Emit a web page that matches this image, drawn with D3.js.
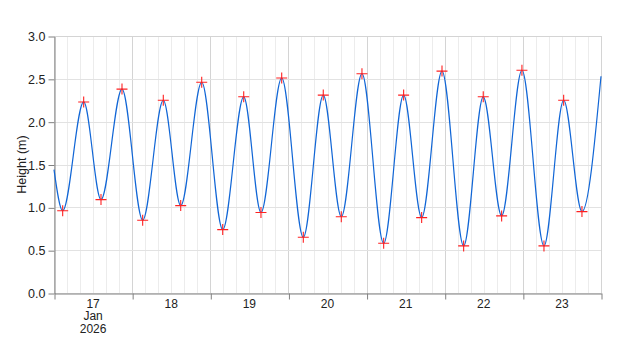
<!DOCTYPE html>
<html>
<head>
	<script src="https://cdn.jsdelivr.net/npm/d3@7"></script>
	<style>
		html, body {
			padding: 0;
			margin: 0;
			background: #fff;
		}
		text {
			font-family: "Liberation Sans", Arial, sans-serif;
		}
	</style>
</head>
<body>
	<script>
		//////// DATA ////////
		// tide turning points
		var extremeTimes = [
			"2026-01-17 02:40", "2026-01-17 09:07", "2026-01-17 14:26", "2026-01-17 20:53",
			"2026-01-18 03:14", "2026-01-18 09:34", "2026-01-18 14:55", "2026-01-18 21:22",
			"2026-01-19 03:49", "2026-01-19 10:16", "2026-01-19 15:34", "2026-01-19 21:56",
			"2026-01-20 04:34", "2026-01-20 10:42", "2026-01-20 16:14", "2026-01-20 22:35",
			"2026-01-21 05:15", "2026-01-21 11:23", "2026-01-21 16:55", "2026-01-21 23:10",
			"2026-01-22 05:49", "2026-01-22 11:50", "2026-01-22 17:29", "2026-01-22 23:43",
			"2026-01-23 06:29", "2026-01-23 12:32", "2026-01-23 18:09"
		];
		var extremeHeights = [
			0.96, 2.23, 1.09, 2.38,
			0.85, 2.25, 1.02, 2.46,
			0.74, 2.29, 0.94, 2.51,
			0.65, 2.31, 0.89, 2.56,
			0.58, 2.31, 0.88, 2.59,
			0.55, 2.29, 0.90, 2.60,
			0.55, 2.25, 0.95
		];
		// curve values at the left and right edge
		var edgeTimes = ["2026-01-17 00:00", "2026-01-24 00:00"];
		var edgeHeights = [1.44, 2.53];

		var yTicks = [0, 0.5, 1, 1.5, 2, 2.5, 3];
		var dayLabels = ["17", "18", "19", "20", "21", "22", "23"];
		var firstLabelExtra = ["Jan", "2026"];

		//////// SETUP ////////
		var width = 620, height = 350;
		var margin = {top: 36, right: 19, bottom: 57, left: 54};

		var parse = d3.timeParse("%Y-%m-%d %H:%M");

		var extremes = extremeTimes.map(function(t, i) {
			return {t: parse(t), h: extremeHeights[i]};
		});
		var curve = [{t: parse(edgeTimes[0]), h: edgeHeights[0]}]
			.concat(extremes)
			.concat([{t: parse(edgeTimes[1]), h: edgeHeights[1]}]);

		var svg = d3.select("body").append("svg")
			.attr("width", width)
			.attr("height", height);

		var x = d3.scaleTime()
			.domain([parse(edgeTimes[0]), parse(edgeTimes[1])])
			.range([margin.left, width - margin.right]);

		var y = d3.scaleLinear()
			.domain([0, 3])
			.range([height - margin.bottom, margin.top]);

		//////// GRID ////////
		var grid = svg.append("g");

		grid.selectAll(".vminor")
			.data(x.ticks(d3.timeHour.every(4)))
			.enter().append("line")
			.attr("x1", function(d) { return Math.round(x(d)) + 0.5; })
			.attr("x2", function(d) { return Math.round(x(d)) + 0.5; })
			.attr("y1", y(3))
			.attr("y2", y(0))
			.attr("stroke", function(d) { return d.getHours() === 0 ? "#d4d4d4" : "#ececec"; })
			.attr("stroke-width", 1);

		grid.selectAll(".hgrid")
			.data(yTicks)
			.enter().append("line")
			.attr("x1", margin.left)
			.attr("x2", width - margin.right)
			.attr("y1", function(d) { return Math.round(y(d)) + 0.5; })
			.attr("y2", function(d) { return Math.round(y(d)) + 0.5; })
			.attr("stroke", function(d) { return d === 3 ? "#d4d4d4" : "#e2e2e2"; })
			.attr("stroke-width", 1);

		// right border
		grid.append("line")
			.attr("x1", Math.round(x.range()[1]) + 0.5)
			.attr("x2", Math.round(x.range()[1]) + 0.5)
			.attr("y1", y(3))
			.attr("y2", y(0))
			.attr("stroke", "#d4d4d4");

		//////// AXES ////////
		var yAxis = svg.append("g")
			.attr("transform", "translate(" + (margin.left + 0.5) + ",0.5)")
			.call(d3.axisLeft(y).tickValues(yTicks).tickFormat(d3.format(".1f")).tickSize(6).tickSizeOuter(0));

		yAxis.selectAll("text")
			.attr("font-size", "12.5px")
			.attr("fill", "#222")
			.attr("font-family", "Liberation Sans, Arial, sans-serif");
		yAxis.selectAll("line, path").attr("stroke", "#808080");

		var days = d3.timeDay.range(parse(edgeTimes[0]), d3.timeDay.offset(parse(edgeTimes[1]), 1));

		var xAxis = svg.append("g")
			.attr("transform", "translate(0.5," + (y(0) + 0.5) + ")")
			.call(d3.axisBottom(x).tickValues(days).tickFormat("").tickSize(6).tickSizeOuter(0));
		xAxis.selectAll("line, path").attr("stroke", "#808080");

		// day labels sit at noon
		var labelG = svg.append("g");
		dayLabels.forEach(function(lab, i) {
			var mid = d3.timeHour.offset(days[i], 12);
			labelG.append("text")
				.attr("x", x(mid))
				.attr("y", y(0) + 14.5)
				.attr("text-anchor", "middle")
				.attr("font-size", "12px")
				.attr("fill", "#222")
				.text(lab);
			if (i === 0) {
				firstLabelExtra.forEach(function(s, j) {
					labelG.append("text")
						.attr("x", x(mid))
						.attr("y", y(0) + 27 + j * 12.5)
						.attr("text-anchor", "middle")
						.attr("font-size", "12px")
						.attr("fill", "#222")
						.text(s);
				});
			}
		});

		svg.append("text")
			.attr("transform", "translate(26," + ((y(0) + y(3)) / 2) + ") rotate(-90)")
			.attr("text-anchor", "middle")
			.attr("font-size", "12.5px")
			.attr("fill", "#222")
			.text("Height (m)");

		//////// TIDE LINE ////////
		var line = d3.line()
			.x(function(d) { return x(d.t); })
			.y(function(d) { return y(d.h); })
			.curve(d3.curveMonotoneX);

		svg.append("path")
			.datum(curve)
			.attr("d", line)
			.attr("fill", "none")
			.attr("stroke", "#1166d6")
			.attr("stroke-width", 1.2);

		//////// MARKERS ////////
		svg.selectAll(".mark")
			.data(extremes)
			.enter().append("path")
			.attr("transform", function(d) { return "translate(" + x(d.t) + "," + y(d.h) + ")"; })
			.attr("d", "M-5.5,0H5.5M0,-5.5V5.5")
			.attr("stroke", "#ff2020")
			.attr("stroke-width", 1.1)
			.attr("fill", "none");
	</script>
</body>
</html>
